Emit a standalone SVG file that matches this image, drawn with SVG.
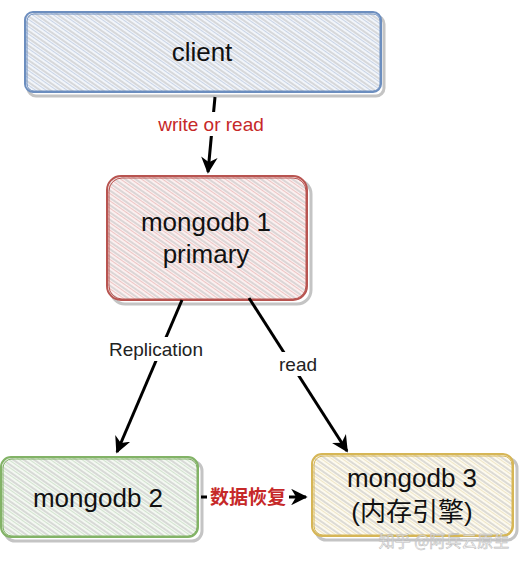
<svg xmlns="http://www.w3.org/2000/svg" width="523" height="563" viewBox="0 0 523 563">
<defs>
<pattern id="hb" width="6" height="6" patternUnits="userSpaceOnUse" patternTransform="rotate(-55)"><rect width="6" height="6" fill="#f2f5fa"/><line x1="0" y1="0" x2="0" y2="6" stroke="#aebfd9" stroke-width="1.2"/><line x1="3" y1="0" x2="3" y2="6" stroke="#b4b4b4" stroke-width="0.9"/></pattern>
<pattern id="hr" width="6" height="6" patternUnits="userSpaceOnUse" patternTransform="rotate(-55)"><rect width="6" height="6" fill="#fbf0f0"/><line x1="0" y1="0" x2="0" y2="6" stroke="#e4a9a6" stroke-width="1.2"/><line x1="3" y1="0" x2="3" y2="6" stroke="#b4b4b4" stroke-width="0.9"/></pattern>
<pattern id="hg" width="6" height="6" patternUnits="userSpaceOnUse" patternTransform="rotate(-55)"><rect width="6" height="6" fill="#f4f8f2"/><line x1="0" y1="0" x2="0" y2="6" stroke="#bcd5b8" stroke-width="1.2"/><line x1="3" y1="0" x2="3" y2="6" stroke="#b4b4b4" stroke-width="0.9"/></pattern>
<pattern id="hy" width="6" height="6" patternUnits="userSpaceOnUse" patternTransform="rotate(-55)"><rect width="6" height="6" fill="#fdfaef"/><line x1="0" y1="0" x2="0" y2="6" stroke="#e6d9ad" stroke-width="1.2"/><line x1="3" y1="0" x2="3" y2="6" stroke="#b4b4b4" stroke-width="0.9"/></pattern>
<marker id="ah" viewBox="0 0 10 10" refX="9" refY="5" markerWidth="5.5" markerHeight="5.5" orient="auto" markerUnits="strokeWidth"><path d="M0,0 L10,5 L0,10 L3,5 Z" fill="#000"/></marker>
</defs>
<style>
.t{font-family:"Liberation Sans",Arial,sans-serif;fill:#111;text-anchor:middle}
.big{font-size:26px}
.lbl{font-size:19px;fill:#222}
.red{fill:#c62828}
.sh{fill:none;stroke:#c4c4c4;stroke-width:3}
.edge{stroke:#000;stroke-width:3;fill:none;marker-end:url(#ah)}
.bg{fill:#fff}
</style>
<g id="client">
<rect x="28" y="16" width="356" height="80" rx="8" class="sh"/>
<rect x="25" y="12" width="356" height="80" rx="8" fill="url(#hb)" stroke="#6c8ebf" stroke-width="2"/>
<rect x="27" y="14" width="353" height="77" rx="7" fill="none" stroke="#6c8ebf" stroke-width="1"/>
<text x="202" y="61" class="t big">client</text>
</g>
<g id="mongodb1">
<rect x="111" y="180" width="200" height="124" rx="14" class="sh"/>
<rect x="107" y="176" width="200" height="124" rx="14" fill="url(#hr)" stroke="#b85450" stroke-width="2"/>
<rect x="109" y="178" width="197" height="121" rx="13" fill="none" stroke="#b85450" stroke-width="1"/>
<text x="206" y="231" class="t big">mongodb 1</text>
<text x="206" y="263" class="t big">primary</text>
</g>
<g id="mongodb2">
<rect x="5" y="461" width="197" height="80" rx="10" class="sh"/>
<rect x="1" y="457" width="197" height="80" rx="10" fill="url(#hg)" stroke="#82b366" stroke-width="2"/>
<rect x="3" y="459" width="194" height="77" rx="9" fill="none" stroke="#82b366" stroke-width="1"/>
<text x="98" y="507" class="t big">mongodb 2</text>
</g>
<g id="mongodb3">
<rect x="316" y="458" width="201" height="82" rx="10" class="sh"/>
<rect x="312" y="454" width="201" height="82" rx="10" fill="url(#hy)" stroke="#d6b656" stroke-width="2"/>
<rect x="314" y="456" width="198" height="79" rx="9" fill="none" stroke="#d6b656" stroke-width="1"/>
<text x="412" y="487" class="t big">mongodb 3</text>
<text x="412" y="521" class="t big" style="font-family:'Liberation Sans','Noto Sans CJK SC',sans-serif">(内存引擎)</text>
</g>
<g id="connectors">
<path d="M215,97 L208,172" class="edge"/>
<rect x="152" y="112" width="120" height="24" class="bg"/>
<text x="211" y="131" class="t lbl red">write or read</text>
<path d="M182,300 L117,452" class="edge"/>
<rect x="104" y="337" width="104" height="24" class="bg"/>
<text x="156" y="356" class="t lbl">Replication</text>
<path d="M249,298 L347,451" class="edge"/>
<rect x="275" y="352" width="46" height="24" class="bg"/>
<text x="298" y="371" class="t lbl">read</text>
<path d="M201,497 L306,497" class="edge"/>
<rect x="207" y="485" width="82" height="24" class="bg"/>
<text x="248" y="504" class="t red" style="font-family:'Noto Sans CJK SC',sans-serif;font-size:19px;font-weight:bold">数据恢复</text>
</g>
<text x="444" y="547" class="t" style="font-family:'Noto Sans CJK SC',sans-serif;font-size:16px;fill:#fff;stroke:#bbb;stroke-width:0.6;fill-opacity:0.6">知乎 @阿兵云原生</text>
</svg>
